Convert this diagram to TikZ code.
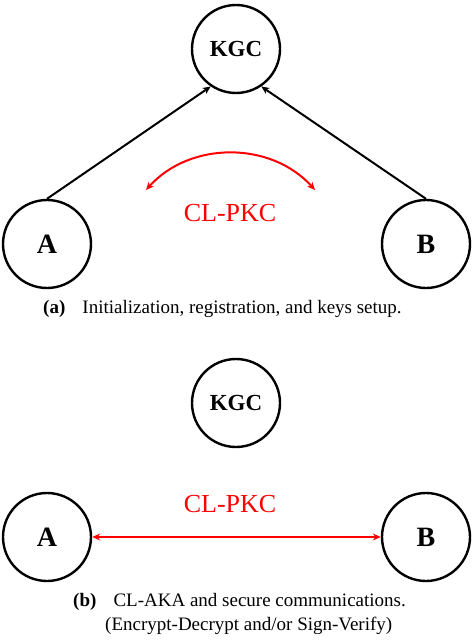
\documentclass[tikz,border=0pt]{standalone}
\usepackage{fontspec}
\setmainfont{Liberation Serif}
\usetikzlibrary{arrows.meta}
\tikzset{
  party/.style={circle, draw=black, line width=2.4pt, minimum size=88pt, inner sep=0pt, font=\fontsize{28}{30}\selectfont\bfseries},
  kgc/.style={party, font=\fontsize{23}{25}\selectfont\bfseries},
  blackarrow/.style={draw=black, line width=2pt, -{Stealth[length=8pt,width=7pt]}},
  redarrow/.style={draw=red, line width=2pt, {Stealth[length=8pt,width=7pt]}-{Stealth[length=8pt,width=7pt]}},
  redlabel/.style={text=red, font=\fontsize{26}{28}\selectfont, inner sep=0pt},
  caption/.style={font=\fontsize{19}{24}\selectfont, inner sep=0pt}
}
\begin{document}
\begin{tikzpicture}[x=1pt,y=-1pt]
\useasboundingbox (0,0) rectangle (474,642);
% (a)
\node[kgc] (kgc1) at (236,49) {KGC};
\node[party] (a1) at (47,244) {A};
\node[party] (b1) at (426,244) {B};
\draw[blackarrow] (a1.north) -- (kgc1.236);
\draw[blackarrow] (b1.north) -- (kgc1.304);
\coordinate (al) at (146,190);
\coordinate (ar) at (315,190);
\draw[redarrow] (al) to[bend left=48] (ar);
\node[redlabel, anchor=base] (pkc1) at (230,221.5) {CL-PKC};
\node[caption, anchor=base west] (capa) at (43,313.5) {\textbf{(a)}\hspace{0.9em}Initialization, registration, and keys setup.};
% (b)
\node[kgc] (kgc2) at (236,403) {KGC};
\node[party] (a2) at (47,537) {A};
\node[party] (b2) at (426,537) {B};
\draw[redarrow] (a2) -- (b2);
\node[redlabel, anchor=base] (pkc2) at (230,512.5) {CL-PKC};
\node[caption, anchor=base west] (capb1) at (73,606.5) {\textbf{(b)}\hspace{0.9em}CL-AKA and secure communications.};
\node[caption, anchor=base west] (capb2) at (105,630) {(Encrypt-Decrypt and/or Sign-Verify)};
\end{tikzpicture}
\end{document}
